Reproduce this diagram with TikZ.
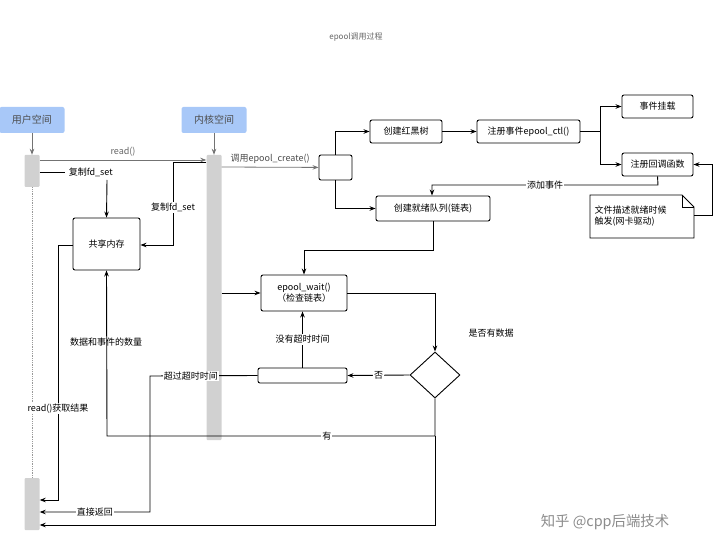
\documentclass[tikz,border=0pt]{standalone}
\usepackage{fontspec}
\setmainfont{Noto Sans CJK SC}
\usetikzlibrary{positioning,shapes.geometric,arrows.meta}

\begin{document}
\begin{tikzpicture}[x=1pt,y=-1pt,
        space_box/.style={rectangle, fill={rgb,255:red,168;green,200;blue,248}, rounded corners=2pt, minimum width=65pt, minimum height=26pt, font=\normalsize, text=black!70},
        act_bar/.style={rectangle, fill=black!18, rounded corners=1pt, minimum width=15pt},
        proc_box/.style={rectangle, draw=black, line width=0.9pt, rounded corners=2pt, font=\small},
        flow/.style={black, line width=0.9pt, -{Stealth[length=6pt]}},
        call/.style={black!55, line width=0.8pt, -{Stealth[length=6pt]}},
        lbl/.style={fill=white, inner sep=1pt, font=\small}
        ]
            \useasboundingbox (0,0) rectangle (720,556);
            \node[font=\footnotesize, text=black!60] (title) at (356,37) {epool调用过程};

            % lifelines
            \node[space_box]    (user)     at (32,120)   {用户空间};
            \node[space_box]    (kern)     at (214,120)  {内核空间};
            \node[act_bar, minimum height=32pt]  (ubar)  at (32,171)  {};
            \node[act_bar, minimum height=52pt]  (ubar2) at (32,504)  {};
            \node[act_bar, minimum height=285pt] (kbar)  at (214,297.5) {};
            \draw[call] (user) -- (ubar);
            \draw[call] (kern) -- (kbar);
            \draw[black!40, densely dotted, line width=0.8pt] (ubar) -- (ubar2);

            % boxes
            \node[proc_box, minimum width=67pt, minimum height=52pt] (shm)    at (106.5,244) {共享内存};
            \node[proc_box, minimum width=33pt, minimum height=25pt] (split)  at (335.5,167.5) {};
            \node[proc_box, minimum width=72pt, minimum height=23pt] (rbtree) at (406,131.5) {创建红黑树};
            \node[proc_box, minimum width=103pt, minimum height=23pt] (ctl)   at (528.5,131.5) {注册事件epool\_ctl()};
            \node[proc_box, minimum width=71pt, minimum height=23pt] (mount)  at (657.5,106.5) {事件挂载};
            \node[proc_box, minimum width=71pt, minimum height=23pt] (cb)     at (657.5,164.5) {注册回调函数};
            \node[proc_box, minimum width=114pt, minimum height=25pt] (ready) at (433,208.5) {创建就绪队列(链表)};
            \node[proc_box, minimum width=86pt, minimum height=36pt, align=center, inner sep=1pt] (wait) at (304,293) {epool\_wait()\\（检查链表）};
            \node[proc_box, minimum width=89pt, minimum height=15pt] (tmo)    at (302.5,375.5) {};
            \node[diamond, draw=black, line width=0.9pt, minimum width=50pt, minimum height=46pt, inner sep=0pt] (has) at (435,375) {};
            % note with folded corner
            \draw[black, line width=0.9pt] (590,195) -- (682,195) -- (694,207) -- (694,238) -- (590,238) -- cycle;
            \draw[black, line width=0.9pt] (682,195) -- (682,207) -- (694,207);
            \node[font=\small, align=left, anchor=west] (note) at (591,216.5) {文件描述就绪时候\\触发(网卡驱动)};
            \coordinate (note_r) at (694,215);

            % calls
            \draw[call] (ubar.east |- 0,160) -- node[above, font=\small, text=black!60] {read()} (kbar.west |- 0,160);
            \draw[call] (kbar.east |- 0,167) -- node[above, font=\small, text=black!70] {调用epool\_create()} (split);
            \draw[black, line width=0.9pt] (ubar.east |- 0,172) -- (65,172) node[right, font=\small] (cp1) {复制fd\_set};
            \draw[flow] (107,180) -- (shm.north);
            \draw[flow] (kbar.west |- 0,162) -- (173,162) -- node[lbl, pos=0.55] {复制fd\_set} (173,245) -- (shm.east |- 0,245);
            \draw[flow] (split.north) |- (rbtree);
            \draw[flow] (split.south) |- (ready);
            \draw[flow] (rbtree) -- (ctl);
            \draw[flow] (ctl) -- (600,131.5) |- (mount);
            \draw[flow] (600,131.5) |- (cb);
            \draw[flow] (cb.south) -- (658,185) -- node[lbl] {添加事件} (432,185) -- (ready.north -| 432,0);
            \draw[flow] (note_r) -- (712,215) |- (cb.east);
            \draw[flow] (ready.south) -- (433,250) -| (wait.north);
            \draw[flow] (kbar.east |- wait.west) -- (wait.west);
            \draw[flow] (wait.east) -| (has.north);
            \node[font=\small] (q) at (491,333) {是否有数据};
            \draw[flow] (has.west) -- node[lbl] {否} (tmo.east);
            \draw[flow] (tmo.north) -- node[lbl] {没有超时时间} (wait.south -| tmo.north);
            \draw[flow] (tmo.west) -- node[lbl, pos=0.62] {超过超时时间} (150,376) -- (150,512) -- node[lbl] {直接返回} (ubar2.east |- 0,512);
            \draw[flow] (has.south) -- (435,436) -- node[lbl, pos=0.33] {有} (107,436) -- (shm.south);
            \draw[flow] (435,436) -- (435,525) -- (ubar2.east |- 0,525);
            \draw[flow] (shm.west |- 0,245) -- (58,245) -- node[lbl, pos=0.64] {read()获取结果} (58,500) -- (ubar2.east |- 0,500);
            \node[font=\small] (cnt) at (106,342) {数据和事件的数量};

            % watermark
            \node[text=black!45, font=\Large] (mark) at (605,522) {知乎 @cpp后端技术};
        \end{tikzpicture}
\end{document}
